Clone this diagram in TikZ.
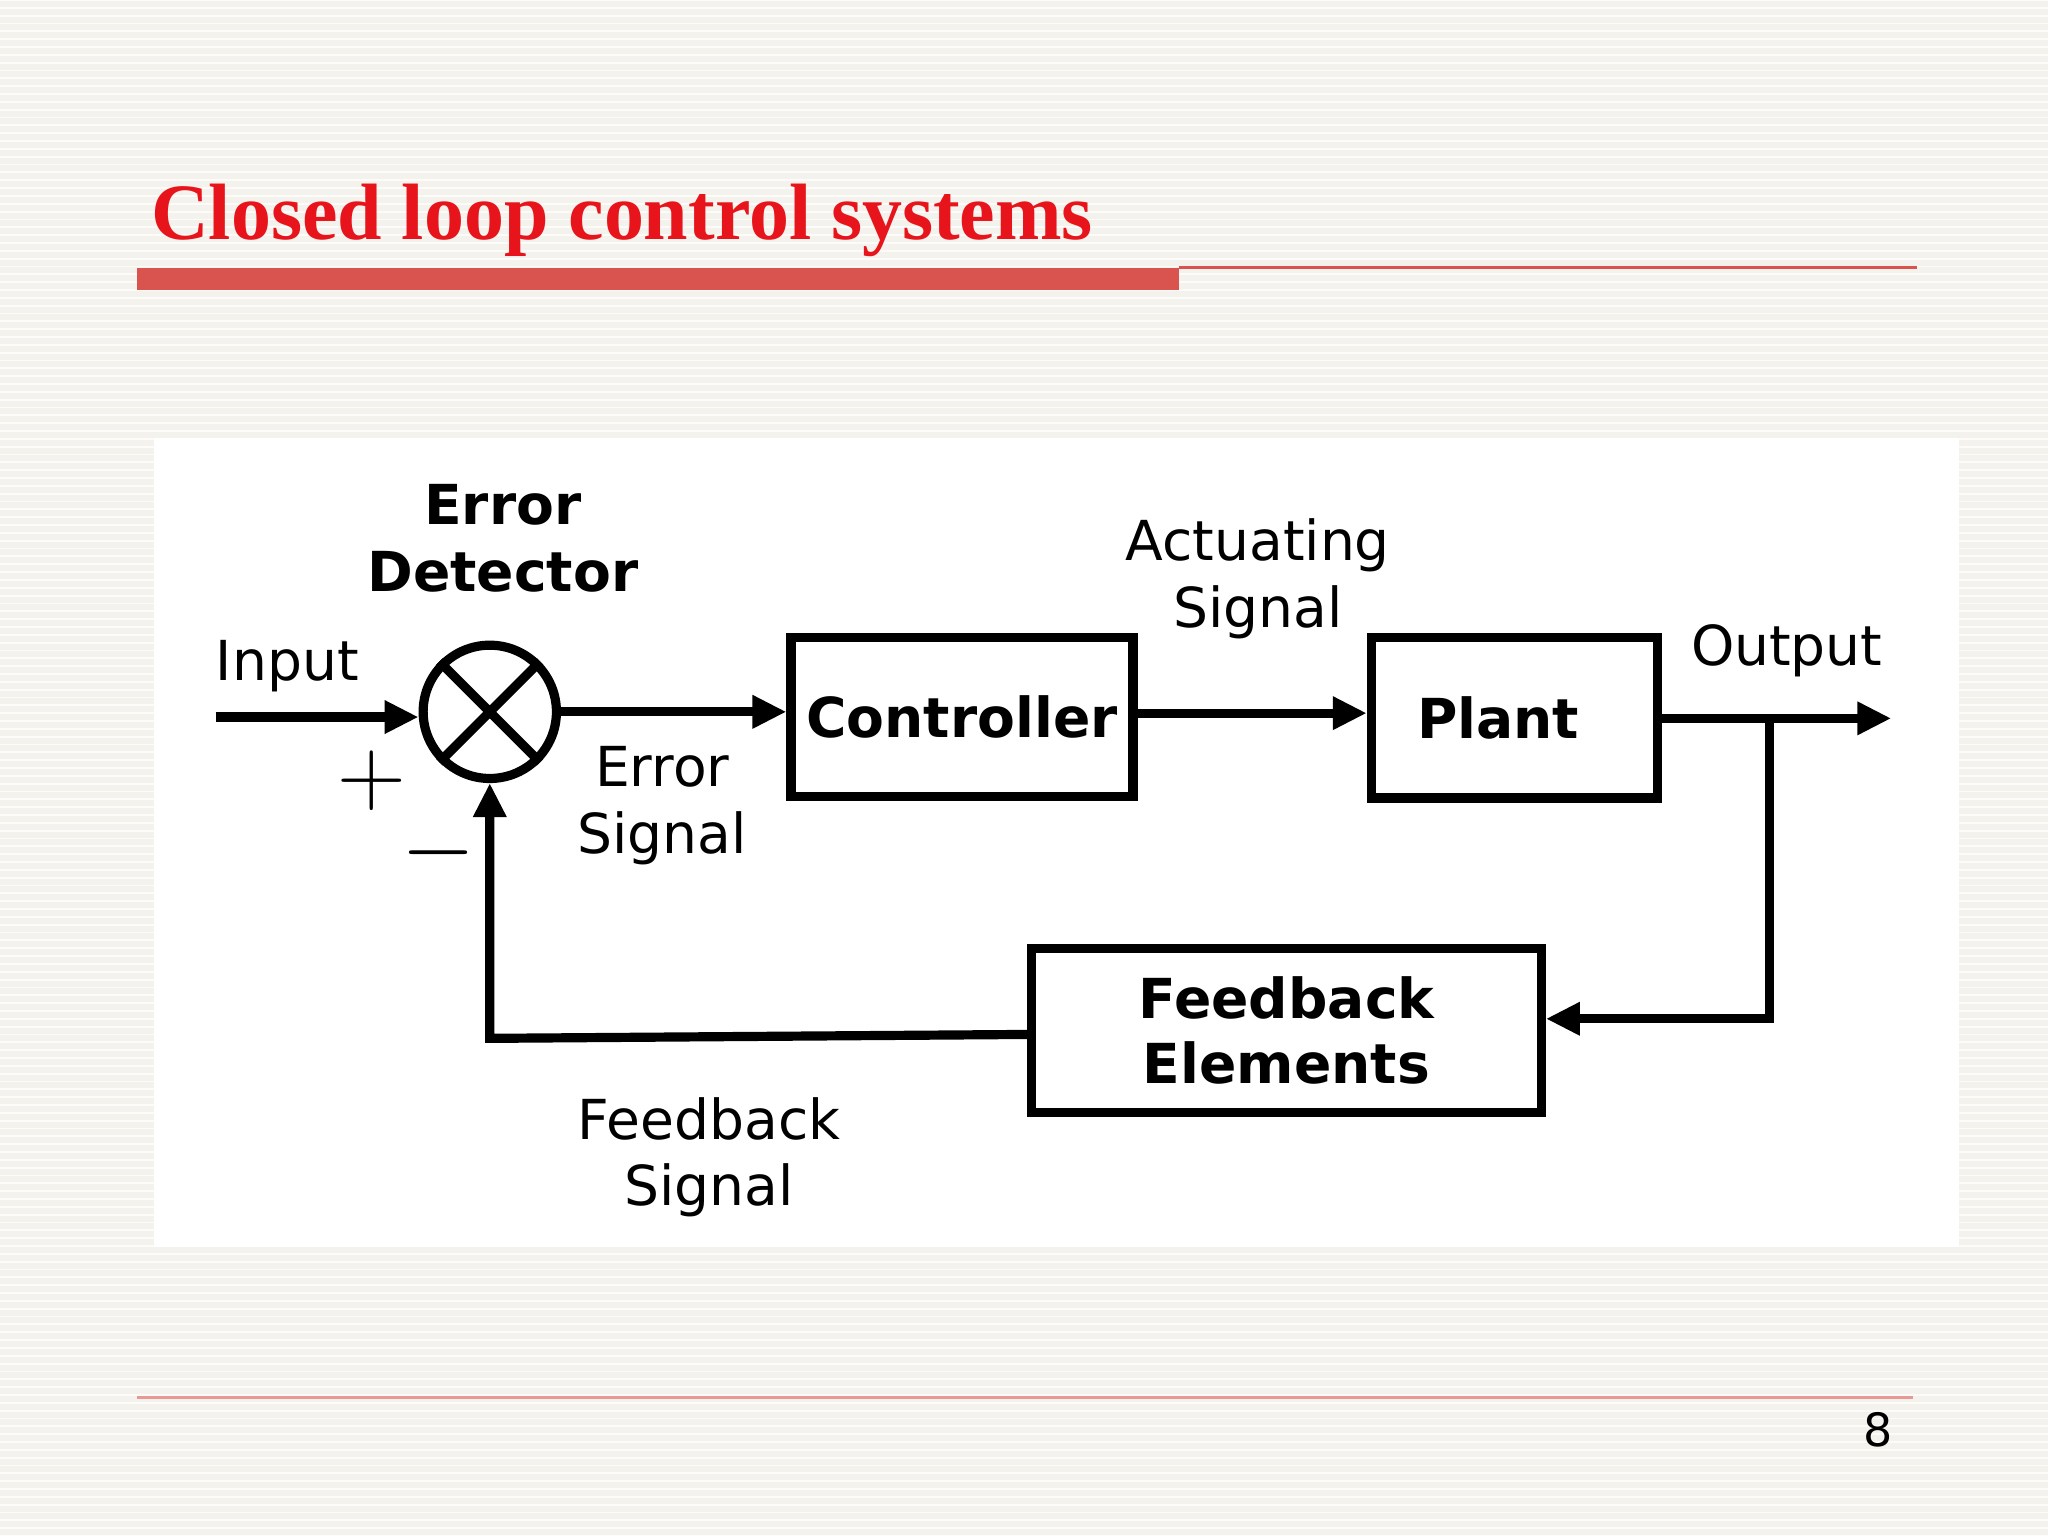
\documentclass[tikz,border=0pt]{standalone}
\usepackage{fontspec}
\setmainfont{DejaVu Sans}
\newfontfamily\titlefont{Liberation Serif}
\usetikzlibrary{arrows.meta}
\definecolor{slidebg}{HTML}{F4F2EC}
\definecolor{titlered}{HTML}{E8141B}
\definecolor{barred}{HTML}{D9534F}
\begin{document}
\begin{tikzpicture}[x=0.01cm,y=-0.01cm]
    \tikzstyle{block}=[rectangle,draw,line width=2pt,font=\fontsize{12}{14}\selectfont\bfseries]
    \tikzstyle{lbl}=[align=center,font=\fontsize{12}{14.5}\selectfont]
    \tikzstyle{sig}=[line width=2pt,-{Triangle[length=2.6mm,width=2.4mm]}]
    \useasboundingbox (0,0) rectangle (1568,1176);
    \fill [slidebg] (0,0) rectangle (1568,1176);
    \foreach \y in {0,6,...,1176} \draw [white!70!slidebg,line width=0.4pt] (0,\y) -- (1568,\y);
    % title
    \node (title) [anchor=base west,inner sep=0pt,text=titlered,font=\titlefont\fontsize{17.4}{21}\selectfont\bfseries] at (115,183) {Closed loop control systems};
    \fill [barred] (105,205) rectangle (903,222);
    \draw [barred,line width=0.6pt] (903,205) -- (1468,205);
    \draw [barred!60,line width=0.6pt] (105,1070) -- (1465,1070);
    \node (page) [font=\fontsize{10}{12}\selectfont] at (1438,1095) {8};
    % diagram
    \fill [white] (118,335) rectangle (1500,955);
    \node (det) [circle,draw,line width=2pt,minimum size=1.02cm,inner sep=0pt] at (375,545) {};
    \draw [line width=2pt] (det.north west) -- (det.south east) (det.north east) -- (det.south west);
    \node (ctrl)  [block,minimum width=2.59cm,minimum height=1.22cm] at (736.5,549) {Controller};
    \node (plant) [block,minimum width=2.19cm,minimum height=1.23cm] at (1159.5,549.5) {\hspace*{-0.25cm}Plant};
    \node (fb)    [block,minimum width=3.90cm,minimum height=1.26cm,align=center] at (985,789) {Feedback\\Elements};
    \coordinate (in) at (165,549);
    \coordinate (out) at (1448,550);
    \coordinate (tap) at (1355,550);
    \draw [sig] (in) -- (det.west |- in);
    \draw [sig] (det.east) -- (det.east -| ctrl.west);
    \draw [sig] (ctrl.east |- 0,546) -- (plant.west |- 0,546);
    \draw [sig] (plant.east |- out) -- (out);
    \draw [sig] (tap) -- (tap |- 0,780) -- (fb.east |- 0,780);
    \draw [sig] (fb.west |- 0,792) -- (375,795) -- (det.south);
    % labels
    \node (detl) [lbl,font=\fontsize{12}{14.5}\selectfont\bfseries] at (385,412) {Error\\Detector};
    \node (inl)  [lbl] at (220,510) {Input};
    \node (plus) [font=\fontsize{20}{20}\selectfont] at (285,598) {$+$};
    \node (minus)[font=\fontsize{20}{20}\selectfont] at (336,653) {$-$};
    \node (errl) [lbl] at (507,617) {Error\\Signal};
    \node (actl) [lbl] at (963,443) {Actuating\\Signal};
    \node (outl) [lbl] at (1368,498) {Output};
    \node (fbl)  [lbl] at (543,886) {Feedback\\Signal};
\end{tikzpicture}
\end{document}
